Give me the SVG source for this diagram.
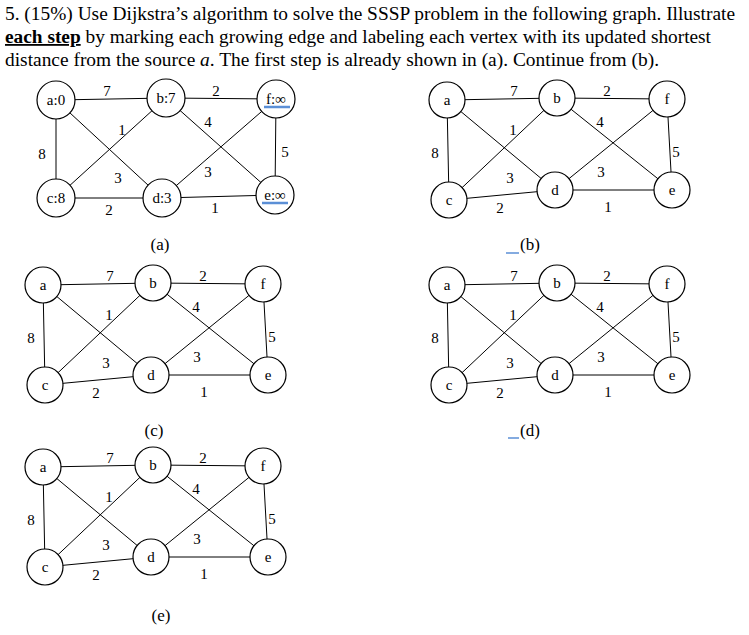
<svg xmlns="http://www.w3.org/2000/svg" width="749" height="635" viewBox="0 0 749 635">
<style>
text{font-family:"Liberation Serif",serif;fill:#000}
.t{font-size:18px}
.n{font-size:15px;text-anchor:middle}
.w{font-size:15px;text-anchor:middle}
.cap{font-size:17px;text-anchor:middle}
circle{fill:#fff;stroke:#000;stroke-width:1.2}
line{stroke:#000;stroke-width:1}
.u{stroke:#5b8fd6;stroke-width:2.5}
</style>
<rect width="749" height="635" fill="#fff"/>
<text class="t" x="5" y="20" textLength="730" lengthAdjust="spacingAndGlyphs">5. (15%) Use Dijkstra’s algorithm to solve the SSSP problem in the following graph. Illustrate</text>
<text class="t" x="5" y="43" textLength="706" lengthAdjust="spacingAndGlyphs"><tspan font-weight="bold" text-decoration="underline">each step</tspan> by marking each growing edge and labeling each vertex with its updated shortest</text>
<text class="t" x="5" y="66" textLength="654" lengthAdjust="spacingAndGlyphs">distance from the source <tspan font-style="italic">a</tspan>. The first step is already shown in (a). Continue from (b).</text>

<defs>
<g id="edges">
<line x1="0" y1="0" x2="110" y2="-2"/><line x1="110" y1="-2" x2="220" y2="-1"/>
<line x1="0" y1="0" x2="2" y2="100"/><line x1="220" y1="-1" x2="225" y2="90"/>
<line x1="2" y1="100" x2="108" y2="90"/><line x1="108" y1="90" x2="225" y2="90"/>
<line x1="0" y1="0" x2="108" y2="90"/><line x1="2" y1="100" x2="110" y2="-2"/>
<line x1="110" y1="-2" x2="225" y2="90"/><line x1="108" y1="90" x2="220" y2="-1"/>
</g>
<g id="wts">
<text class="w" x="67" y="-4">7</text><text class="w" x="160" y="-4">2</text>
<text class="w" x="66" y="35">1</text><text class="w" x="153" y="27">4</text>
<text class="w" x="-12" y="58">8</text><text class="w" x="229" y="57">5</text>
<text class="w" x="63" y="83">3</text><text class="w" x="154" y="77">3</text>
<text class="w" x="53" y="113">2</text><text class="w" x="161" y="112">1</text>
</g>
<g id="nodes">
<circle cx="0" cy="0" r="18"/><circle cx="110" cy="-2" r="18"/><circle cx="220" cy="-1" r="18"/>
<circle cx="2" cy="100" r="18"/><circle cx="108" cy="90" r="18"/><circle cx="225" cy="90" r="18"/>
<text class="n" x="0" y="5">a</text><text class="n" x="110" y="3">b</text><text class="n" x="220" y="4">f</text>
<text class="n" x="2" y="105">c</text><text class="n" x="108" y="95">d</text><text class="n" x="225" y="95">e</text>
</g>
</defs>

<g id="connectors">
<g transform="translate(56,100)">
<line x1="0" y1="0" x2="110" y2="-2"/><line x1="110" y1="-2" x2="220" y2="-1"/>
<line x1="0" y1="0" x2="0" y2="98"/><line x1="220" y1="-1" x2="219" y2="95"/>
<line x1="0" y1="98" x2="106" y2="98"/><line x1="106" y1="98" x2="219" y2="95"/>
<line x1="0" y1="0" x2="106" y2="98"/><line x1="0" y1="98" x2="110" y2="-2"/>
<line x1="110" y1="-2" x2="219" y2="95"/><line x1="106" y1="98" x2="220" y2="-1"/>
</g>
<use href="#edges" x="447" y="100"/>
<use href="#edges" x="43" y="285"/>
<use href="#edges" x="447" y="285"/>
<use href="#edges" x="43" y="467"/>
</g>

<g id="graph-a" transform="translate(56,100)">
<text class="w" x="51" y="-4">7</text><text class="w" x="160" y="-4">2</text>
<text class="w" x="66" y="35">1</text><text class="w" x="152" y="27">4</text>
<text class="w" x="-14" y="59">8</text><text class="w" x="229" y="57">5</text>
<text class="w" x="62" y="83">3</text><text class="w" x="152" y="77">3</text>
<text class="w" x="53" y="115">2</text><text class="w" x="159" y="113">1</text>
<g id="a-a"><circle cx="0" cy="0" r="19"/><text class="n" x="0" y="5">a:0</text></g>
<g id="a-b"><circle cx="110" cy="-2" r="19"/><text class="n" x="110" y="3">b:7</text></g>
<g id="a-f"><circle cx="220" cy="-1" r="19"/><text class="n" x="220" y="4">f:∞</text><line class="u" x1="208" y1="7" x2="234" y2="7"/></g>
<g id="a-c"><circle cx="0" cy="98" r="19"/><text class="n" x="0" y="103">c:8</text></g>
<g id="a-d"><circle cx="106" cy="98" r="19"/><text class="n" x="106" y="103">d:3</text></g>
<g id="a-e"><circle cx="219" cy="95" r="19"/><text class="n" x="219" y="100">e:∞</text><line class="u" x1="206" y1="103" x2="232" y2="103"/></g>
</g>
<text class="cap" x="160" y="250">(a)</text>

<g id="graph-b"><use href="#wts" x="447" y="100"/><use href="#nodes" x="447" y="100"/></g>
<line class="u" x1="506" y1="253" x2="519" y2="253" style="stroke-width:1.5"/>
<text class="cap" x="530" y="250">(b)</text>

<g id="graph-c"><use href="#wts" x="43" y="285"/><use href="#nodes" x="43" y="285"/></g>
<text class="cap" x="154" y="436">(c)</text>

<g id="graph-d"><use href="#wts" x="447" y="285"/><use href="#nodes" x="447" y="285"/></g>
<line class="u" x1="508" y1="438" x2="519" y2="438" style="stroke-width:1.5"/>
<text class="cap" x="530" y="436">(d)</text>

<g id="graph-e"><use href="#wts" x="43" y="467"/><use href="#nodes" x="43" y="467"/></g>
<text class="cap" x="161" y="621">(e)</text>
</svg>
